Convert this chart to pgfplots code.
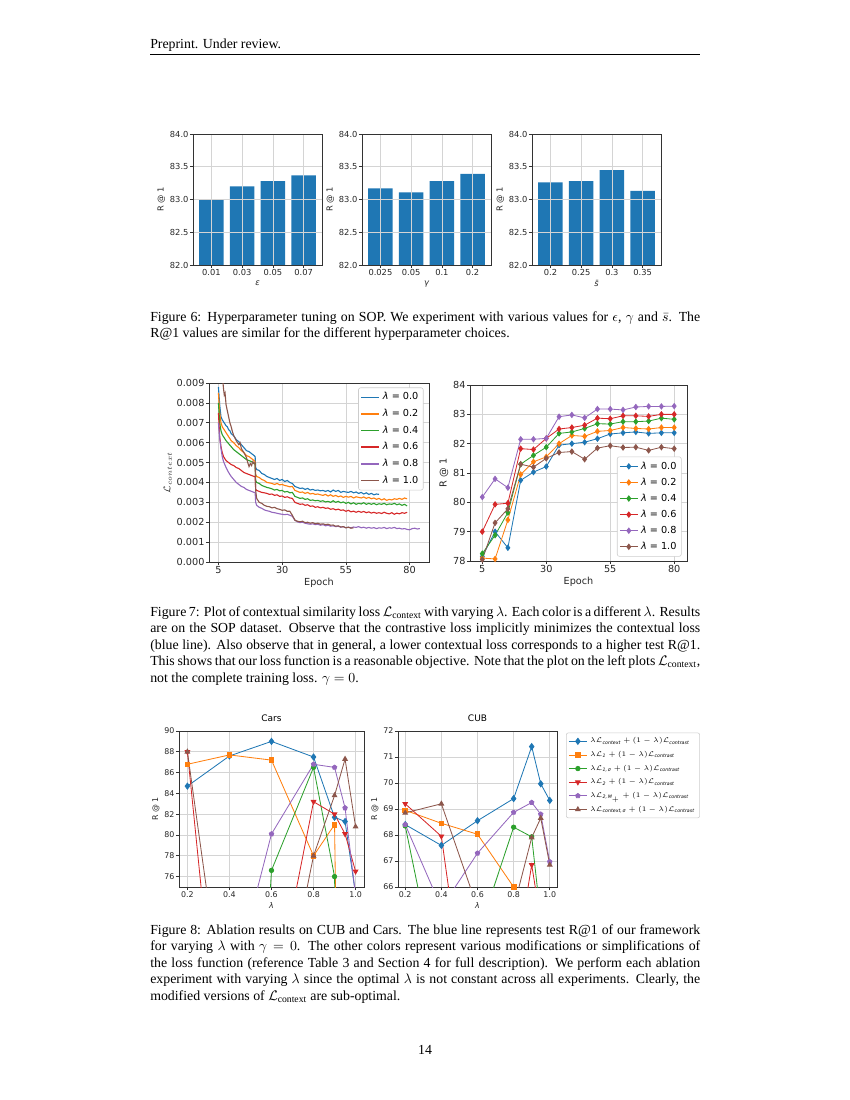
\documentclass[border=0pt]{standalone}
\usepackage{amsmath}
\usepackage{fontspec}
\setmainfont{Liberation Serif}
\newfontfamily\dejavu{DejaVu Sans}[ItalicFont={DejaVu Sans Oblique}]
\usepackage{pgfplots}
\pgfplotsset{compat=1.18}
\definecolor{C0}{HTML}{1F77B4}
\definecolor{C1}{HTML}{FF7F0E}
\definecolor{C2}{HTML}{2CA02C}
\definecolor{C3}{HTML}{D62728}
\definecolor{C4}{HTML}{9467BD}
\definecolor{C5}{HTML}{8C564B}
\newcommand{\sbt}[1]{\text{\fontsize{3.4}{4}\selectfont\dejavu\itshape #1}}
\pgfplotsset{
  mpl/.style={
    scale only axis, anchor=south west,
    axis line style={black!80, line width=0.5pt},
    grid=major, major grid style={black!17, line width=0.45pt},
    tick align=outside, major tick length=2.3pt,
    tick style={black!80, line width=0.5pt},
    tick pos=left,
    /pgf/number format/assume math mode=true,
    every tick label/.append style={font=\dejavu\fontsize{#1}{#1}\selectfont, text=black!85, inner sep=0.8pt},
    label style={font=\dejavu\fontsize{#1}{#1}\selectfont, text=black!85},
    xlabel shift=-1pt, ylabel shift=-0.8pt,
    title style={font=\dejavu\fontsize{6.5}{7}\selectfont, yshift=-3pt},
  },
  mplline/.style={legend image code/.code={\draw[mark repeat=2,mark phase=2,##1] plot coordinates {(0cm,0cm) (0.23cm,0cm) (0.46cm,0cm)};}},
  mpllinethick/.style={legend image code/.code={\draw[##1, line width=1.1pt] (0cm,0cm) -- (0.46cm,0cm);}},
}
\begin{document}
\begin{tikzpicture}
\path[use as bounding box] (0,0) rectangle (612bp,-792bp);
% header
\node[anchor=base west, inner sep=0, font=\fontsize{10}{12}\selectfont] at (108bp,-34.6bp) {Preprint. Under review.};
\draw[line width=0.4pt] (108bp,-38.9bp) -- (504bp,-38.9bp);

% ---------------- Figure 6 ----------------
\begin{axis}[mpl=6, at={(138.96bp,-190.8bp)}, width=92.88bp, height=94.32bp,
  ymin=82, ymax=84, ytick={82,82.5,83,83.5,84},
  yticklabel style={/pgf/number format/.cd, fixed, fixed zerofill, precision=1},
  xmin=-0.6, xmax=3.6, xtick={0,1,2,3}, xticklabels={0.01,0.03,0.05,0.07},
  axis on top, ylabel={R @ 1}, xlabel={\itshape ε}]
\addplot[ybar, bar width=0.8, fill=C0, draw=none] coordinates {(0,83.00) (1,83.20) (2,83.28) (3,83.37)};
\end{axis}
\begin{axis}[mpl=6, at={(260.64bp,-190.8bp)}, width=92.88bp, height=94.32bp,
  ymin=82, ymax=84, ytick={82,82.5,83,83.5,84},
  yticklabel style={/pgf/number format/.cd, fixed, fixed zerofill, precision=1},
  xmin=-0.6, xmax=3.6, xtick={0,1,2,3}, xticklabels={0.025,0.05,0.1,0.2},
  axis on top, ylabel={R @ 1}, xlabel={\itshape γ}]
\addplot[ybar, bar width=0.8, fill=C0, draw=none] coordinates {(0,83.17) (1,83.11) (2,83.28) (3,83.39)};
\end{axis}
\begin{axis}[mpl=6, at={(383.04bp,-190.8bp)}, width=92.88bp, height=94.32bp,
  ymin=82, ymax=84, ytick={82,82.5,83,83.5,84},
  yticklabel style={/pgf/number format/.cd, fixed, fixed zerofill, precision=1},
  xmin=-0.6, xmax=3.6, xtick={0,1,2,3}, xticklabels={0.2,0.25,0.3,0.35},
  axis on top, ylabel={R @ 1}, xlabel={\itshape s̄}]
\addplot[ybar, bar width=0.8, fill=C0, draw=none] coordinates {(0,83.26) (1,83.28) (2,83.45) (3,83.13)};
\end{axis}

\node[anchor=north west, inner sep=0, text width=396bp, align=justify, font=\fontsize{10}{12}\selectfont] at (108bp,-224bp)
{Figure 6: Hyperparameter tuning on SOP. We experiment with various values for $\epsilon$, $\gamma$ and $\bar{s}$. The\linebreak R@1 values are similar for the different hyperparameter choices.};

% ---------------- Figure 7 left ----------------
\begin{axis}[mpl=7, mpllinethick, at={(150.48bp,-404.64bp)}, width=158.4bp, height=128.88bp,
  xmin=1.3, xmax=87.6, ymin=0, ymax=9, xtick={5,30,55,80},
  ytick={0,1,2,3,4,5,6,7,8,9},
  yticklabels={0.000,0.001,0.002,0.003,0.004,0.005,0.006,0.007,0.008,0.009},
  xlabel={Epoch}, ylabel={$\mathcal{L}_{context}$},
  legend style={at={(0.975,0.975)}, anchor=north east, draw=black!20, fill=white, rounded corners=1.5pt,
    font=\dejavu\fontsize{7}{8}\selectfont, inner sep=1.5pt, row sep=1.2pt},
  legend cell align=left,
  every axis plot/.append style={line width=0.8pt}]
\addplot[C0] coordinates {(5,8.8) (5.5,7.9) (6,7.3) (6.5,7.15) (7,7.05) (7.5,6.95) (8,6.85) (8.5,6.8) (9,6.65) (9.5,6.6) (10,6.45) (11,6.35) (12,6.15) (13,6.05) (14,5.9) (15,5.75) (16,5.6) (17,5.55) (18,5.45) (19,5.35) (19.4,5.3) (19.6,4.75) (20,4.65) (21,4.6) (22,4.45) (23,4.4) (24,4.3) (25,4.25) (26,4.2) (27,4.15) (28,4.2) (29,4.1) (30,4.15) (31,4.05) (32,4.1) (33,4.0) (34,3.95) (35,3.8) (36,3.75) (37,3.7) (38,3.72) (39,3.65) (40,3.7) (41,3.62) (42,3.65) (43,3.6) (44,3.62) (45,3.58) (46,3.6) (47,3.55) (48,3.6) (49,3.52) (50,3.62) (51,3.55) (52,3.6) (53,3.5) (54,3.55) (55,3.52) (56,3.5) (57,3.55) (58,3.48) (59,3.52) (60,3.45) (61,3.5) (62,3.42) (63,3.48) (64,3.4) (65,3.45) (66,3.38) (67,3.42) (68,3.4)};
\addlegendentry{{\itshape λ} = 0.0}
\addplot[C1] coordinates {(5,8.5) (5.5,7.5) (6,7.0) (6.5,6.8) (7,6.7) (8,6.5) (9,6.3) (10,6.1) (11,6.0) (12,5.85) (13,5.75) (14,5.6) (15,5.5) (16,5.35) (17,5.3) (18,5.2) (19,5.1) (19.4,5.05) (19.6,4.4) (20,4.3) (21,4.25) (22,4.15) (23,4.1) (24,4.0) (25,3.98) (26,3.95) (27,3.9) (28,3.95) (29,3.88) (30,3.9) (31,3.85) (32,3.82) (33,3.78) (34,3.8) (35,3.6) (36,3.55) (37,3.5) (38,3.52) (39,3.45) (40,3.5) (41,3.42) (42,3.45) (43,3.4) (44,3.42) (45,3.38) (46,3.35) (47,3.4) (48,3.32) (49,3.38) (50,3.3) (51,3.35) (52,3.28) (53,3.32) (54,3.25) (55,3.3) (56,3.26) (57,3.3) (58,3.22) (59,3.28) (60,3.25) (61,3.22) (62,3.27) (63,3.2) (64,3.25) (65,3.18) (66,3.22) (67,3.15) (68,3.2) (69,3.12) (70,3.18) (71,3.1) (72,3.15) (73,3.12) (74,3.18) (75,3.15) (76,3.2) (77,3.15) (78,3.22) (79,3.18)};
\addlegendentry{{\itshape λ} = 0.2}
\addplot[C2] coordinates {(5,8.0) (5.5,7.0) (6,6.6) (6.5,6.4) (7,6.3) (8,6.1) (9,5.95) (10,5.8) (11,5.65) (12,5.55) (13,5.45) (14,5.35) (15,5.25) (16,5.15) (17,5.1) (18,5.05) (19,4.95) (19.4,4.95) (19.6,4.1) (20,4.0) (21,3.95) (22,3.85) (23,3.8) (24,3.75) (25,3.72) (26,3.68) (27,3.62) (28,3.65) (29,3.58) (30,3.6) (31,3.52) (32,3.55) (33,3.48) (34,3.5) (35,3.3) (36,3.25) (37,3.2) (38,3.22) (39,3.15) (40,3.18) (41,3.1) (42,3.12) (43,3.08) (44,3.1) (45,3.05) (46,3.08) (47,3.02) (48,3.05) (49,3.0) (50,3.08) (51,3.0) (52,3.05) (53,2.98) (54,3.02) (55,2.95) (56,3.0) (57,2.92) (58,2.98) (59,2.9) (60,2.95) (61,2.92) (62,2.98) (63,2.9) (64,2.95) (65,2.9) (66,2.95) (67,2.88) (68,2.93) (69,2.9) (70,2.95) (71,2.88) (72,2.92) (73,2.9) (74,2.95) (75,2.88) (76,2.92) (77,2.85) (78,2.9) (79,2.82)};
\addlegendentry{{\itshape λ} = 0.4}
\addplot[C3] coordinates {(5,7.5) (5.5,6.3) (6,5.8) (6.5,5.5) (7,5.3) (8,5.1) (9,5.0) (10,4.9) (11,4.85) (12,4.75) (13,4.7) (14,4.6) (15,4.5) (16,4.45) (17,4.4) (18,4.35) (19,4.3) (19.4,4.3) (19.6,3.65) (20,3.6) (21,3.55) (22,3.5) (23,3.48) (24,3.45) (25,3.4) (26,3.42) (27,3.35) (28,3.38) (29,3.3) (30,3.32) (31,3.25) (32,3.28) (33,3.22) (34,3.2) (35,3.0) (36,2.95) (37,2.9) (38,2.92) (39,2.85) (40,2.88) (41,2.8) (42,2.82) (43,2.75) (44,2.78) (45,2.72) (46,2.75) (47,2.7) (48,2.72) (49,2.65) (50,2.68) (51,2.62) (52,2.66) (53,2.6) (54,2.62) (55,2.55) (56,2.6) (57,2.52) (58,2.56) (59,2.5) (60,2.55) (61,2.5) (62,2.54) (63,2.48) (64,2.52) (65,2.46) (66,2.5) (67,2.45) (68,2.48) (69,2.44) (70,2.5) (71,2.45) (72,2.42) (73,2.48) (74,2.4) (75,2.46) (76,2.42) (77,2.48) (78,2.45) (79,2.5)};
\addlegendentry{{\itshape λ} = 0.6}
\addplot[C4] coordinates {(5,7.0) (5.5,6.2) (6,5.7) (6.5,5.3) (7,5.05) (8,4.75) (9,4.5) (10,4.3) (11,4.15) (12,4.0) (13,3.9) (14,3.8) (15,3.75) (16,3.65) (17,3.6) (18,3.55) (19,3.5) (19.4,3.5) (19.6,3.0) (20,2.85) (21,2.75) (22,2.7) (23,2.62) (24,2.58) (25,2.55) (26,2.5) (27,2.48) (28,2.45) (29,2.42) (30,2.4) (31,2.38) (32,2.4) (33,2.35) (34,2.3) (35,2.1) (36,2.02) (37,1.98) (38,2.0) (39,1.95) (40,1.92) (41,1.9) (42,1.92) (43,1.88) (44,1.9) (45,1.85) (46,1.88) (47,1.82) (48,1.85) (49,1.8) (50,1.82) (51,1.78) (52,1.8) (53,1.75) (54,1.78) (55,1.72) (56,1.75) (57,1.72) (58,1.76) (59,1.74) (60,1.78) (61,1.72) (62,1.75) (63,1.7) (64,1.74) (65,1.7) (66,1.73) (67,1.68) (68,1.72) (69,1.7) (70,1.74) (71,1.68) (72,1.72) (73,1.7) (74,1.74) (75,1.68) (76,1.7) (77,1.66) (78,1.68) (79,1.64) (80,1.62) (81,1.68) (82,1.7) (83,1.66) (84,1.68)};
\addlegendentry{{\itshape λ} = 0.8}
\addplot[C5] coordinates {(6.6,9.3) (7,8.7) (7.3,8.4) (7.6,8.5) (8,7.9) (8.5,7.6) (9,7.3) (9.5,7.0) (10,6.8) (10.5,6.55) (11,6.35) (12,6.1) (13,5.9) (13.5,6.0) (14,5.7) (15,5.5) (16,5.25) (16.5,5.0) (17,4.8) (17.5,4.95) (18,4.85) (18.5,5.05) (19,4.95) (19.4,5.0) (19.6,3.6) (20,3.2) (21,3.0) (22,2.95) (23,2.85) (24,2.8) (25,2.78) (26,2.72) (27,2.75) (28,2.68) (29,2.65) (30,2.6) (31,2.62) (32,2.55) (33,2.55) (34,2.35) (35,2.1) (36,2.05) (37,2.02) (38,2.05) (39,1.98) (40,2.0) (41,1.95) (42,1.98) (43,1.92) (44,1.95) (45,1.9) (46,1.92) (47,1.88) (48,1.9) (49,1.85) (50,1.86) (51,1.8) (52,1.82) (53,1.76) (54,1.78) (55,1.72) (56,1.75) (57,1.7) (58,1.72)};
\addlegendentry{{\itshape λ} = 1.0}
\end{axis}

% ---------------- Figure 7 right ----------------
\begin{axis}[mpl=7, mplline, at={(338.4bp,-403.92bp)}, width=156.24bp, height=126.72bp,
  xmin=0.2, xmax=85, ymin=78, ymax=84, xtick={5,30,55,80}, ytick={78,79,80,81,82,83,84},
  xlabel={Epoch}, ylabel={R @ 1},
  legend style={at={(0.975,0.025)}, anchor=south east, draw=black!20, fill=white, rounded corners=1.5pt,
    font=\dejavu\fontsize{7}{8}\selectfont, inner sep=1.5pt, row sep=0.8pt},
  legend cell align=left,
  every axis plot/.append style={line width=0.6pt, mark=diamond*, mark size=1.9pt}]
\addplot[C0, mark options={fill=C0}] coordinates {(5,78.15) (10,79.0) (15,78.45) (20,80.75) (25,81.03) (30,81.22) (35,81.95) (40,82.0) (45,82.05) (50,82.17) (55,82.33) (60,82.37) (65,82.4) (70,82.35) (75,82.37) (80,82.37)};
\addlegendentry{{\itshape λ} = 0.0}
\addplot[C1, mark options={fill=C1}] coordinates {(5,78.1) (10,78.07) (15,79.4) (20,80.95) (25,81.38) (30,81.55) (35,82.0) (40,82.28) (45,82.25) (50,82.42) (55,82.45) (60,82.55) (65,82.52) (70,82.5) (75,82.55) (80,82.55)};
\addlegendentry{{\itshape λ} = 0.2}
\addplot[C2, mark options={fill=C2}] coordinates {(5,78.25) (10,78.88) (15,79.65) (20,81.3) (25,81.6) (30,81.88) (35,82.35) (40,82.4) (45,82.52) (50,82.68) (55,82.67) (60,82.75) (65,82.75) (70,82.77) (75,82.87) (80,82.83)};
\addlegendentry{{\itshape λ} = 0.4}
\addplot[C3, mark options={fill=C3}] coordinates {(5,79.0) (10,79.93) (15,79.97) (20,81.83) (25,81.8) (30,82.18) (35,82.5) (40,82.55) (45,82.63) (50,82.87) (55,82.85) (60,82.95) (65,82.95) (70,82.93) (75,83.0) (80,83.0)};
\addlegendentry{{\itshape λ} = 0.6}
\addplot[C4, mark options={fill=C4}] coordinates {(5,80.18) (10,80.8) (15,80.5) (20,82.15) (25,82.15) (30,82.18) (35,82.92) (40,82.98) (45,82.88) (50,83.18) (55,83.18) (60,83.15) (65,83.25) (70,83.27) (75,83.27) (80,83.28)};
\addlegendentry{{\itshape λ} = 0.8}
\addplot[C5, mark options={fill=C5}] coordinates {(5,78.05) (10,79.3) (15,79.78) (20,81.3) (25,81.2) (30,81.5) (35,81.7) (40,81.73) (45,81.47) (50,81.85) (55,81.93) (60,81.87) (65,81.88) (70,81.77) (75,81.88) (80,81.83)};
\addlegendentry{{\itshape λ} = 1.0}
\end{axis}

\node[anchor=north west, inner sep=0, text width=396bp, align=justify, font=\fontsize{10}{12}\selectfont] at (108bp,-436.3bp)
{Figure 7: Plot of contextual similarity loss $\mathcal{L}_{\text{context}}$ with varying $\lambda$. Each color is a different $\lambda$. Results\linebreak
are on the SOP dataset.  Observe that the contrastive loss implicitly minimizes the contextual loss\linebreak
(blue line). Also observe that in general, a lower contextual loss corresponds to a higher test R@1.\linebreak
This shows that our loss function is a reasonable objective. Note that the plot on the left plots $\mathcal{L}_{\text{context}}$,\linebreak
not the complete training loss. $\gamma=0$.};

% ---------------- Figure 8 Cars ----------------
\begin{axis}[mpl=5.7, at={(128.88bp,-638.64bp)}, width=133.2bp, height=112.32bp,
  xmin=0.16, xmax=1.04, ymin=75, ymax=90, xtick={0.2,0.4,0.6,0.8,1.0}, ytick={76,78,80,82,84,86,88,90},
  xticklabel style={/pgf/number format/.cd, fixed, fixed zerofill, precision=1},
  title={Cars}, xlabel={\itshape λ}, ylabel={R @ 1},
  every axis plot/.append style={line width=0.6pt}]
\addplot[C0, mark=diamond*, mark size=2.2pt, mark options={fill=C0}] coordinates {(0.2,84.7) (0.4,87.6) (0.6,89.0) (0.8,87.5) (0.9,81.7) (0.95,81.3) (1.0,74.3)};
\addplot[C1, mark=square*, mark size=1.7pt, mark options={fill=C1}] coordinates {(0.2,86.8) (0.4,87.7) (0.6,87.2) (0.8,78.0) (0.9,81.0) (0.95,10) (1.0,10)};
\addplot[C2, mark=*, mark size=1.6pt, mark options={fill=C2}] coordinates {(0.2,10) (0.4,10) (0.6,76.6) (0.8,86.5) (0.9,76.0) (0.95,10) (1.0,10)};
\addplot[C3, mark=triangle*, mark size=1.9pt, mark options={fill=C3, rotate=180}] coordinates {(0.2,88.0) (0.4,48) (0.6,62.7) (0.8,83.2) (0.9,82.0) (0.95,80.1) (1.0,76.5)};
\addplot[C4, mark=pentagon*, mark size=1.7pt, mark options={fill=C4}] coordinates {(0.2,50) (0.4,64.4) (0.6,80.1) (0.8,86.8) (0.9,86.5) (0.95,82.6) (1.0,74.2)};
\addplot[C5, mark=triangle*, mark size=1.9pt, mark options={fill=C5}] coordinates {(0.2,88.0) (0.4,59) (0.6,58) (0.8,78.0) (0.9,83.8) (0.95,87.3) (1.0,80.8)};
\end{axis}

% ---------------- Figure 8 CUB ----------------
\begin{axis}[mpl=5.7, at={(286.56bp,-638.64bp)}, width=114.48bp, height=112.32bp,
  xmin=0.16, xmax=1.04, ymin=66, ymax=72, xtick={0.2,0.4,0.6,0.8,1.0}, ytick={66,67,68,69,70,71,72},
  xticklabel style={/pgf/number format/.cd, fixed, fixed zerofill, precision=1},
  title={CUB}, xlabel={\itshape λ}, ylabel={R @ 1},
  every axis plot/.append style={line width=0.6pt},
  legend style={at={(1.057,0.99)}, anchor=north west, draw=black!20, fill=white, rounded corners=1.5pt,
    font=\fontsize{5}{6}\selectfont, inner sep=1.5pt, row sep=0.6pt},
  legend cell align=left, mplline]
\addplot[C0, mark=diamond*, mark size=2.2pt, mark options={fill=C0}] coordinates {(0.2,68.4) (0.4,67.6) (0.6,68.55) (0.8,69.4) (0.9,71.4) (0.95,69.97) (1.0,69.33)};
\addlegendentry{$\lambda\mathcal{L}_{\sbt{context}}+(1-\lambda)\mathcal{L}_{\sbt{contrast}}$}
\addplot[C1, mark=square*, mark size=1.7pt, mark options={fill=C1}] coordinates {(0.2,68.95) (0.4,68.45) (0.6,68.03) (0.8,66.0) (0.9,40) (0.95,40) (1.0,40)};
\addlegendentry{$\lambda\mathcal{L}_{\sbt{1}}+(1-\lambda)\mathcal{L}_{\sbt{contrast}}$}
\addplot[C2, mark=*, mark size=1.6pt, mark options={fill=C2}] coordinates {(0.2,68.35) (0.4,61.6) (0.6,64.1) (0.8,68.3) (0.9,67.93) (0.95,64.8) (1.0,64.5)};
\addlegendentry{$\lambda\mathcal{L}_{\sbt{1,\,σ}}+(1-\lambda)\mathcal{L}_{\sbt{contrast}}$}
\addplot[C3, mark=triangle*, mark size=1.9pt, mark options={fill=C3, rotate=180}] coordinates {(0.2,69.2) (0.4,67.95) (0.6,58) (0.8,62.6) (0.9,66.85) (0.95,64.7) (1.0,64)};
\addlegendentry{$\lambda\mathcal{L}_{\sbt{2}}+(1-\lambda)\mathcal{L}_{\sbt{contrast}}$}
\addplot[C4, mark=pentagon*, mark size=1.7pt, mark options={fill=C4}] coordinates {(0.2,68.4) (0.4,65.2) (0.6,67.3) (0.8,68.87) (0.9,69.25) (0.95,68.8) (1.0,66.97)};
\addlegendentry{$\lambda\mathcal{L}_{\sbt{2,\,M$_+$}}+(1-\lambda)\mathcal{L}_{\sbt{contrast}}$}
\addplot[C5, mark=triangle*, mark size=1.9pt, mark options={fill=C5}] coordinates {(0.2,68.85) (0.4,69.2) (0.6,65.2) (0.8,65.2) (0.9,67.9) (0.95,68.65) (1.0,66.85)};
\addlegendentry{$\lambda\mathcal{L}_{\sbt{context,\,σ}}+(1-\lambda)\mathcal{L}_{\sbt{contrast}}$}
\end{axis}

\node[anchor=north west, inner sep=0, text width=396bp, align=justify, font=\fontsize{10}{12}\selectfont] at (108bp,-665.3bp)
{Figure 8: Ablation results on CUB and Cars. The blue line represents test R@1 of our framework\linebreak
for varying $\lambda$ with $\gamma=0$. The other colors represent various modifications or simplifications of\linebreak
the loss function (reference Table 3 and Section 4 for full description). We perform each ablation\linebreak
experiment with varying $\lambda$ since the optimal $\lambda$ is not constant across all experiments. Clearly, the\linebreak
modified versions of $\mathcal{L}_{\text{context}}$ are sub-optimal.};

\node[anchor=base, inner sep=0, font=\fontsize{10}{12}\selectfont] at (306bp,-758.9bp) {14};
\end{tikzpicture}
\end{document}
